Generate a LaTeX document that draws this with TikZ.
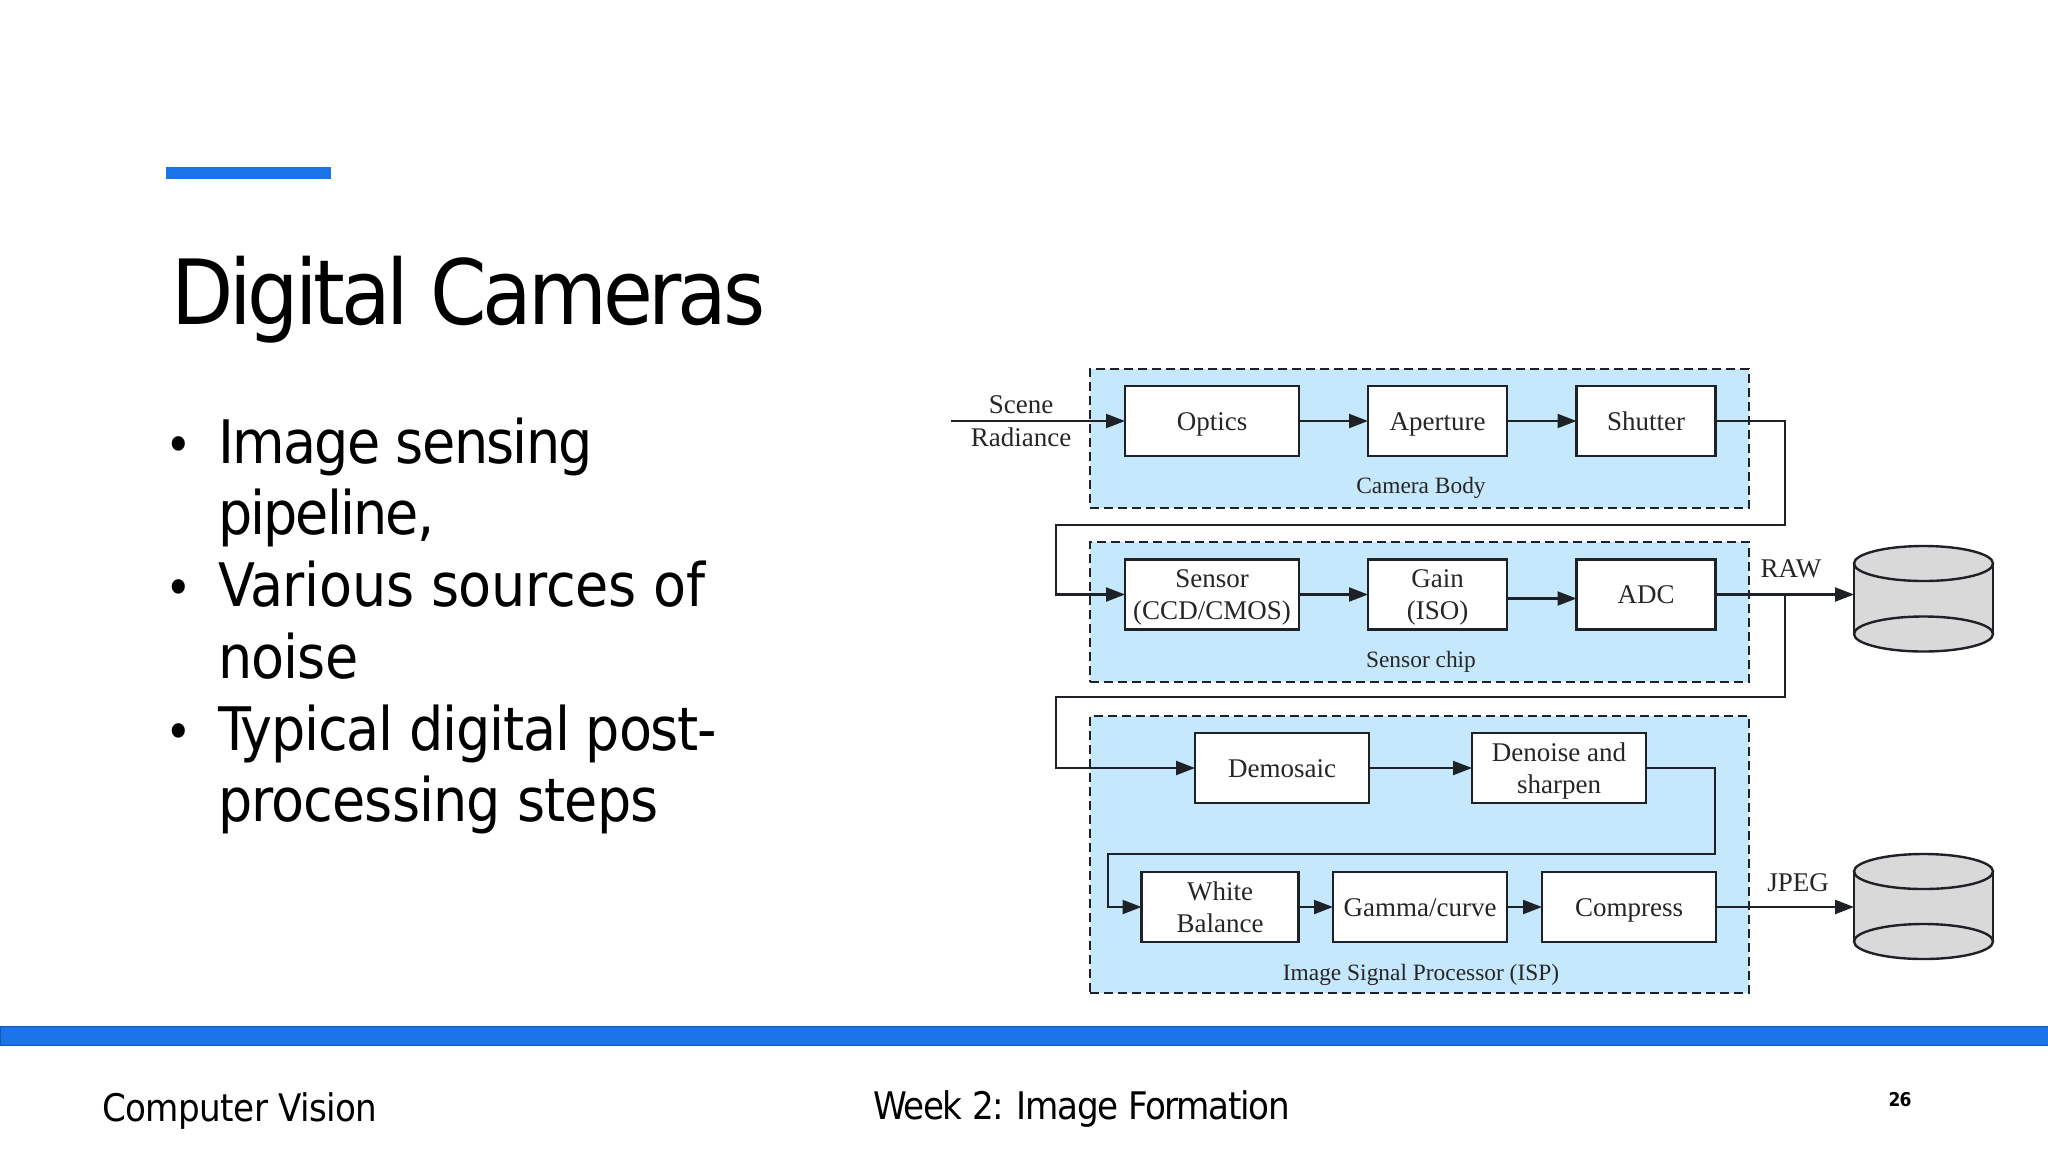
\documentclass[tikz,border=0pt]{standalone}
\usepackage{fontspec}
\setmainfont{Liberation Serif}
\newfontfamily\slidefont[LetterSpace=-1.5]{DejaVu Sans Condensed}
\usetikzlibrary{arrows.meta, shapes.geometric}
\definecolor{barblue}{HTML}{1A73E8}
\definecolor{barline}{HTML}{1558B0}
\definecolor{panelblue}{HTML}{C5E8FC}
\definecolor{inkdark}{HTML}{1E2226}
\definecolor{diskgray}{HTML}{D9D9D9}
\newcommand{\lowline}{\rule{0pt}{24pt}}
\newcommand{\spaced}[1]{\addfontfeature{LetterSpace=#1}}
\tikzset{
  panel/.style={draw=inkdark, fill=panelblue, line width=1.8pt, dash pattern=on 9pt off 5pt, outer sep=0pt, inner sep=0pt},
  block/.style={draw=inkdark, fill=white, line width=2.2pt, outer sep=0pt, inner sep=0pt, minimum height=70pt, align=center, font=\fontsize{27}{32}\selectfont, text=black!85},
  oneblock/.style={block, text height=18pt, text depth=0pt},
  tag/.style={inner sep=0pt, text=black!85, font=\fontsize{27}{32}\selectfont},
  paneltag/.style={inner sep=0pt, text=black!85, font=\fontsize{23.4}{24}\selectfont},
  flow/.style={draw=inkdark, line width=2.2pt, -{Triangle[length=19pt,width=14pt]}},
  plainflow/.style={draw=inkdark, line width=2.2pt},
  diskbody/.style={fill=diskgray, minimum width=139pt, minimum height=70pt, inner sep=0pt, outer sep=0pt},
  diskend/.style={ellipse, draw=inkdark, fill=diskgray, line width=2.4pt, minimum width=139pt, minimum height=35pt, inner sep=0pt, outer sep=0pt},
  bulletline/.style={anchor=base west, inner sep=0pt, font=\fontsize{60}{70}\slidefont},
  dotmark/.style={anchor=base, inner sep=0pt, font=\fontsize{50}{60}\slidefont},
  bar/.style={fill=barblue, inner sep=0pt, outer sep=0pt}
}
\begin{document}
\begin{tikzpicture}[x=1pt,y=-1pt]
        \useasboundingbox[fill=white] (0,0) rectangle (2048,1152);
        % slide frame
        \node[bar, minimum width=165pt, minimum height=12pt] (topbar) at (248.5,173) {};
        \node[bar, draw=barline, line width=1pt, minimum width=2048pt, minimum height=19pt] (footbar) at (1024,1036) {};
        \node[anchor=base west, inner sep=0pt, font=\fontsize{90}{90}\slidefont\spaced{-4.6}] (title) at (171,324) {Digital Cameras};
        \node[dotmark] (dotone) at (179,462) {•};
        \node[dotmark] (dottwo) at (179,605) {•};
        \node[dotmark] (dotthree) at (179,749) {•};
        \node[bulletline] (lineone) at (218,463) {\spaced{-2.8}Image sensing};
        \node[bulletline] (linetwo) at (218,534) {\spaced{-3.2}pipeline,};
        \node[bulletline] (linethree) at (218,606) {\spaced{-0.5}Various sources of};
        \node[bulletline] (linefour) at (218,678) {noise};
        \node[bulletline] (linefive) at (218,750) {\spaced{-2}Typical digital post-};
        \node[bulletline] (linesix) at (218,821) {processing steps};
        \node[anchor=base west, inner sep=0pt, font=\fontsize{38}{38}\slidefont] (footleft) at (102,1121) {Computer Vision};
        \node[anchor=base west, inner sep=0pt, font=\fontsize{38}{38}\slidefont\spaced{-3.5}] (footmid) at (873,1119) {Week 2: Image Formation};
        \node[anchor=base, inner sep=0pt, font=\fontsize{19}{19}\bfseries\slidefont\spaced{-5}] (pagenum) at (1900,1106) {26};
        % panels
        \node[panel, minimum width=659pt, minimum height=139pt] (camerabody) at (1419.5,438.5) {};
        \node[panel, minimum width=659pt, minimum height=140pt] (sensorchip) at (1419.5,612) {};
        \node[panel, minimum width=659pt, minimum height=277pt] (isp) at (1419.5,854.5) {};
        \node[paneltag] (camlabel) at (1421,488) {Camera Body};
        \node[paneltag] (chiplabel) at (1421,662) {Sensor chip};
        \node[paneltag] (isplabel) at (1421,975) {Image Signal Processor (ISP)};
        % blocks
        \node[oneblock, minimum width=174pt] (optics) at (1212,421) {Optics};
        \node[oneblock, minimum width=139pt] (aperture) at (1437.5,421) {Aperture};
        \node[oneblock, minimum width=139pt] (shutter) at (1646,421) {Shutter};
        \node[block, minimum width=174pt] (sensor) at (1212,594.5) {\lowline Sensor\\(CCD/CMOS)};
        \node[block, minimum width=139pt] (gain) at (1437.5,594.5) {\lowline Gain\\(ISO)};
        \node[oneblock, minimum width=139pt] (adc) at (1646,594.5) {ADC};
        \node[oneblock, minimum width=174pt] (demosaic) at (1282,768) {Demosaic};
        \node[block, minimum width=174pt] (denoise) at (1559,768) {\lowline Denoise and\\sharpen};
        \node[block, minimum width=157pt] (whitebal) at (1220,907) {White\\Balance};
        \node[oneblock, minimum width=174pt] (gamma) at (1420,907) {Gamma/curve};
        \node[oneblock, minimum width=174pt] (compress) at (1629,907) {Compress};
        % disks
        \node[diskbody] (rawdisk) at (1923.5,598.5) {};
        \node[diskend] (rawtop) at (1923.5,563.5) {};
        \node[diskend] (rawbottom) at (1923.5,634) {};
        \draw[plainflow] (rawtop.west) -- (rawbottom.west) (rawtop.east) -- (rawbottom.east);
        \node[diskbody] (jpegdisk) at (1923.5,906.5) {};
        \node[diskend] (jpegtop) at (1923.5,871.5) {};
        \node[diskend] (jpegbottom) at (1923.5,941.5) {};
        \draw[plainflow] (jpegtop.west) -- (jpegbottom.west) (jpegtop.east) -- (jpegbottom.east);
        % labels outside the blocks
        \node[tag] (scene) at (1021,405) {Scene};
        \node[tag] (radiance) at (1021,437) {Radiance};
        \node[tag] (rawlabel) at (1791,569) {RAW};
        \node[tag] (jpeglabel) at (1798,883) {JPEG};
        % connectors
        \coordinate (scenein) at (951,421);
        \coordinate (camturn) at (1785,525);
        \coordinate (sensorturn) at (1056,525);
        \coordinate (adcturn) at (1785,697);
        \coordinate (ispturn) at (1056,697);
        \coordinate (denoiseturn) at (1715,854);
        \coordinate (whiteturn) at (1108,854);
        \draw[flow] (scenein) -- (optics.west);
        \draw[flow] (optics) -- (aperture);
        \draw[flow] (aperture) -- (shutter);
        \draw[flow] (shutter.east) -| (camturn) -- (sensorturn) |- (sensor.west);
        \draw[flow] (sensor) -- (gain);
        \draw[flow] ([yshift=-4pt]gain.east) -- ([yshift=-4pt]adc.west);
        \draw[flow] (adc.east) -- (adc.east -| rawdisk.west);
        \draw[flow] (adc.east -| adcturn) -- (adcturn) -- (ispturn) |- (demosaic.west);
        \draw[flow] (demosaic) -- (denoise);
        \draw[flow] (denoise.east) -| (denoiseturn) -- (whiteturn) |- (whitebal.west);
        \draw[flow] (whitebal) -- (gamma);
        \draw[flow] (gamma) -- (compress);
        \draw[flow] (compress.east) -- (compress.east -| jpegdisk.west);
\end{tikzpicture}
\end{document}
